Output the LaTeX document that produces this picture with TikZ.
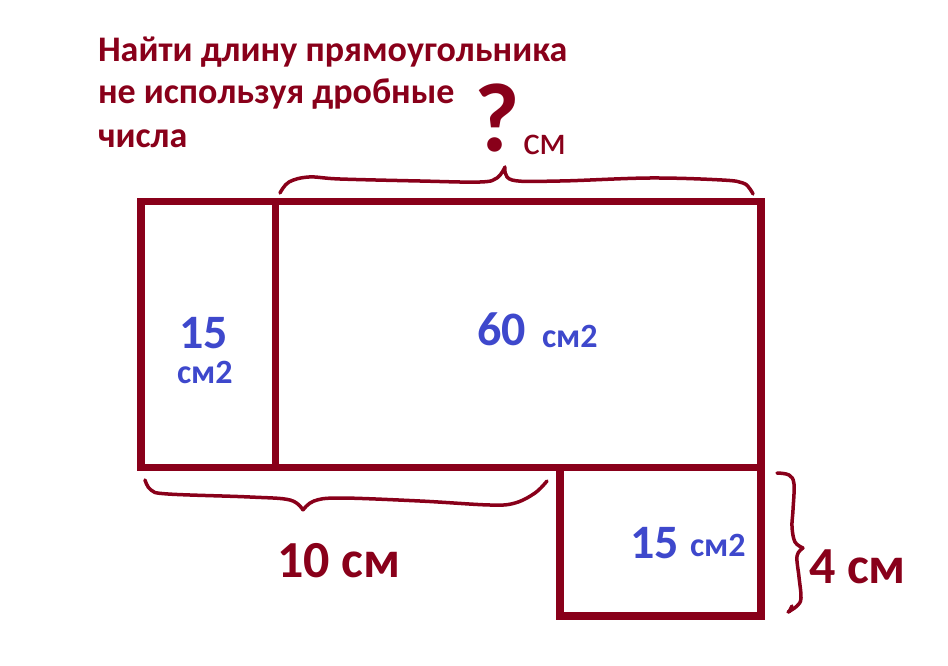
\documentclass[tikz,border=0pt]{standalone}
\usepackage{fontspec}
\setmainfont{Carlito}
\usepackage{xcolor}
\definecolor{darkwine}{RGB}{137,0,26}
\definecolor{areablue}{RGB}{62,72,204}
\usepackage{tikz}
\usetikzlibrary{calc}
\newcommand{\sizetitle}{\fontsize{36}{42}\selectfont}
\newcommand{\sizenum}{\fontsize{48}{56}\selectfont}
\newcommand{\sizeunit}{\fontsize{34}{40}\selectfont}
\newcommand{\sizemeasure}{\fontsize{52}{60}\selectfont}
\tikzset{
    wall/.style={draw=darkwine, line width=7.5pt},
    brace/.style={draw=darkwine, line width=3.5pt, line cap=round, line join=round},
    common/.style={anchor=base west, inner sep=0pt, outer sep=0pt},
    title/.style={common, text=darkwine, font=\bfseries\sizetitle},
    num/.style={common, text=areablue, font=\bfseries\sizenum},
    unit/.style={common, text=areablue, font=\bfseries\sizeunit},
    measure/.style={common, text=darkwine, font=\bfseries\sizemeasure}
}
\begin{document}
\begin{tikzpicture}[x=1pt, y=-1pt]
    \useasboundingbox (0,0) rectangle (948,666);

    % corners of the three rectangles
    \coordinate (L-nw) at (141,201.5);
    \coordinate (L-ne) at (275.5,201.5);
    \coordinate (L-se) at (275.5,467.5);
    \coordinate (B-ne) at (761,201.5);
    \coordinate (B-se) at (761,467.5);
    \coordinate (S-nw) at (560,467.5);
    \coordinate (S-se) at (761,616);

    \draw[wall]
        (L-nw) -- (B-ne) -- (S-se) -- (S-se -| S-nw) -- (S-nw) -- (L-nw |- L-se) -- cycle
        (L-ne) -- (L-se)
        (S-nw) -- (B-se);

    % braces
    \draw[brace] plot[smooth, tension=0.6] coordinates {(280,193) (289,182) (309,177) (340,179) (420,181) (480,182) (497,178) (505,167)}
        plot[smooth, tension=0.6] coordinates {(505,167) (512,180) (560,181) (650,178) (722,180) (743,183) (750,189) (753,194)};
    \draw[brace] plot[smooth, tension=0.6] coordinates {(145,480) (151,490) (168,494) (250,497) (290,500) (303,510)}
        plot[smooth, tension=0.6] coordinates {(303,510) (314,501) (340,498) (420,501) (490,505) (515,503) (535,493) (547,481)};
    \draw[brace] plot[smooth, tension=0.6] coordinates {(777,473) (789,475) (794,484) (793,510) (792,527) (795,542) (803,548)}
        plot[smooth, tension=0.6] coordinates {(803,548) (797,556) (799,577) (801,598) (797,606) (788,612)};
    \draw[brace] (792,606) -- (789,612);

    % task text
    \node[title] (task-1) at (98,62) {Найти длину прямоугольника};
    \node[title] (task-2) at (98,104) {не используя дробные};
    \node[title] (task-3) at (98,148) {числа};

    % unknown length
    \node[common, text=darkwine, font=\bfseries\fontsize{98}{106}\selectfont] (ask) at (474,152) {?};
    \node[common, text=darkwine, font=\fontsize{40}{46}\selectfont] (ask-unit) at (523,154) {см};

    % areas
    \node[num] (area-L) at (179,348) {15};
    \node[unit] (area-L-unit) at (177,383) {см2};
    \node[num] (area-B) at (477,345) {60};
    \node[unit] (area-B-unit) at (542,347) {см2};
    \node[num] (area-S) at (630,558) {15};
    \node[unit] (area-S-unit) at (690,556) {см2};

    % known lengths
    \node[measure] (len-bottom) at (277,577) {10 см};
    \node[measure, font=\bfseries\fontsize{52}{60}\selectfont] (len-right) at (809,583) {4 см};
\end{tikzpicture}
\end{document}
